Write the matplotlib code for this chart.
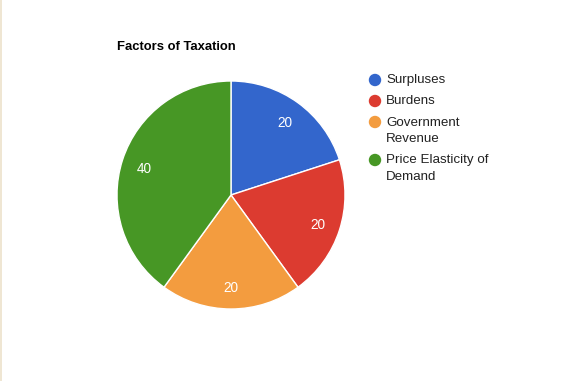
import matplotlib
matplotlib.use("Agg")
import matplotlib.pyplot as plt
from matplotlib.patches import Rectangle

plt.rcParams['font.family'] = ['Liberation Sans', 'DejaVu Sans']

title = "Factors of Taxation"
categories = ["Surpluses", "Burdens", "Government\nRevenue", "Price Elasticity of\nDemand"]
values = [20, 20, 20, 40]
colors = ["#3366cc", "#dc3b30", "#f39c3f", "#479725"]

W, H = 583, 381
dpi = 100
fig = plt.figure(figsize=(W / dpi, H / dpi), dpi=dpi)
fig.patch.set_facecolor("white")

# thin beige left border
fig.patches.append(Rectangle((0, 0), 2 / W, 1, transform=fig.transFigure,
                             facecolor="#efe6d3", edgecolor="none"))

def px_to_fig(x0, y0, x1, y1):
    return [x0 / W, 1 - y1 / H, (x1 - x0) / W, (y1 - y0) / H]

# pie
cx, cy, r = 231, 195, 114
ax = fig.add_axes(px_to_fig(cx - r, cy - r, cx + r, cy + r))
wedges, texts, autotexts = ax.pie(
    values, colors=colors, startangle=90, counterclock=False,
    autopct=lambda p: f"{p * sum(values) / 100:.0f}", pctdistance=0.8,
    wedgeprops=dict(edgecolor="white", linewidth=1),
    textprops=dict(color="white", fontsize=9.8))
for t in autotexts:
    x, y = t.get_position()
    t.set_position((x, y - 0.02))
ax.set_xlim(-1, 1)
ax.set_ylim(-1, 1)
ax.set_aspect("equal")
ax.axis("off")

# title
fig.text(117 / W, 1 - 46.5 / H, title, fontsize=9.4, fontweight="bold",
         color="black", ha="left", va="center")

# legend (manual layout in pixel coords)
lax = fig.add_axes([0, 0, 1, 1])
lax.set_xlim(0, W)
lax.set_ylim(H, 0)
lax.axis("off")
y_positions = [80, 101, 122, 160]
for label, col, y in zip(categories, colors, y_positions):
    lax.scatter([375], [y], s=80, color=col, edgecolors="none")
    for i, line in enumerate(label.split("\n")):
        lax.text(386, y + 16 * i + 0.5, line, fontsize=9.6, color="#222222",
                 ha="left", va="center")

fig.savefig("out.png", dpi=dpi, facecolor="white")
